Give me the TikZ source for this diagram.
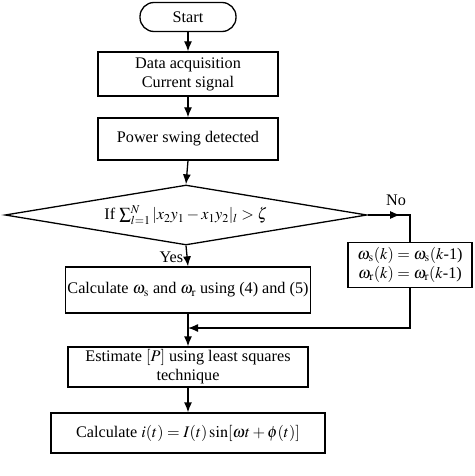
\documentclass[tikz,border=0pt]{standalone}
\usepackage{mathptmx}
\usepackage{fontspec}
\setmainfont{Liberation Serif}
\usetikzlibrary{shapes.geometric, decorations.markings, arrows.meta}

\tikzset{
  box/.style={draw, rectangle, align=center, inner sep=2pt},
  midarrow/.style={postaction={decorate},
    decoration={markings, mark=at position #1 with {\arrow{Latex[length=10pt, width=8pt]}}}}
}

\begin{document}
\begin{tikzpicture}[x=1pt, y=-1pt, >={Latex[length=10pt, width=8pt]}, line width=1.3pt,
  every node/.style={font=\fontsize{16.2}{19}\selectfont}]
\useasboundingbox (0,0) rectangle (474,476);

% Main column of the flow chart
\node [box, rounded corners=14pt, minimum width=96pt, minimum height=29pt] (start) at (188,17) {Start};
\node [box, minimum width=180pt, minimum height=44pt] (acq) at (188,74) {Data acquisition\\Current signal};
\node [box, minimum width=180pt, minimum height=42pt] (swing) at (188,139) {Power swing detected};
\node [draw, diamond, aspect=6, inner sep=0pt, minimum width=362pt, minimum height=60pt] (dec) at (186,215) {};
\node (declab) at (dec.center) {If $\sum_{l=1}^{N}|x_2y_1 - x_1y_2|_l > \zeta$};
\node [box, minimum width=240pt, minimum height=46pt] (calc) at (188,290)
  {Calculate $\omega_\mathrm{s}$ and $\omega_\mathrm{r}$ using (4) and (5)};
\node [box, minimum width=240pt, minimum height=40pt] (est) at (188,367)
  {Estimate $[P]$ using least squares\\technique};
\node [box, minimum width=274pt, minimum height=40pt] (out) at (188,433)
  {Calculate $i(t) = I(t)\sin[\omega t + \phi(t)]$};

% Side branch when the test fails
\node [box, minimum width=124pt, minimum height=45pt] (keep) at (410,265)
  {$\omega_\mathrm{s}(k) = \omega_\mathrm{s}(k$-1)\\$\omega_\mathrm{r}(k) = \omega_\mathrm{r}(k$-1)};
\node (nolab) at (396,200) {No};
\coordinate (corner) at (keep.north |- dec.east);
\coordinate (join) at (188,328);

% Arrows
\foreach \a/\b in {start/acq, acq/swing, swing/dec, calc/est, est/out} {
  \draw [->] (\a.south) -- (\b.north);
}
\draw [->] (dec.south) -- node [left, pos=0.55] {Yes} (calc.north);
\draw [midarrow=0.47] (dec.east) -- (corner) -- (keep.north);
\draw [->] (keep.south) |- (join);

\end{tikzpicture}
\end{document}
